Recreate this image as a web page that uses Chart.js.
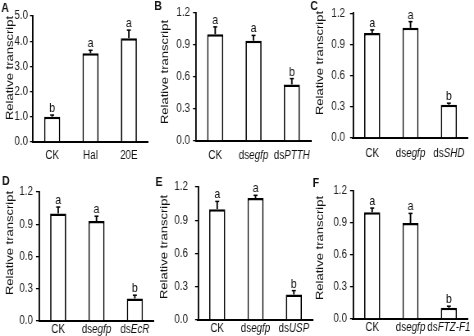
<!DOCTYPE html>
<html>
<head>
<meta charset="utf-8">
<script src="https://cdn.jsdelivr.net/npm/chart.js@4.4.0/dist/chart.umd.min.js"></script>
<style>
html, body { margin: 0; padding: 0; background: #fff; }
#wrap { position: relative; width: 474px; height: 336px; overflow: hidden; background: #fff; }
canvas { position: absolute; }
</style>
</head>
<body>
<div id="wrap"></div>
<script>
// panel data
const panelNames = ['A', 'B', 'C', 'D', 'E', 'F']
const yTitle = 'Relative transcript'

const catsA = ['CK', 'Hal', '20E']
const valsA = [1.0, 3.52, 4.12]
const errA = [0.07, 0.12, 0.32]
const sigA = ['b', 'a', 'a']

const catsB = ['CK', 'dsegfp', 'dsPTTH']
const valsB = [1.0, 0.94, 0.53]
const errB = [0.07, 0.05, 0.055]
const sigB = ['a', 'a', 'b']

const catsC = ['CK', 'dsegfp', 'dsSHD']
const valsC = [1.01, 1.06, 0.32]
const errC = [0.03, 0.06, 0.015]
const sigC = ['a', 'a', 'b']

const catsD = ['CK', 'dsegfp', 'dsEcR']
const valsD = [1.0, 0.93, 0.21]
const errD = [0.06, 0.045, 0.03]
const sigD = ['a', 'a', 'b']

const catsE = ['CK', 'dsegfp', 'dsUSP']
const valsE = [1.0, 1.1, 0.23]
const errE = [0.07, 0.025, 0.035]
const sigE = ['a', 'a', 'b']

const catsF = ['CK', 'dsegfp', 'dsFTZ-F1']
const valsF = [1.0, 0.9, 0.105]
const errF = [0.04, 0.09, 0.015]
const sigF = ['a', 'a', 'b']

const yMaxA = 5, yStepA = 1
const yMaxRest = 1.2, yStepRest = 0.3

// the source figure is squeezed sideways; draw wide, show narrow
const K = 0.82

// where each panel sits on the page (css px)
const boxes = [
  {x: 0,   y: 0,   w: 155, h: 168, axis: 33, top: 16, right: 7, xh: 26, lab: 14, tx: 10, ty: 68, px: 5, py: 8,  pad: 2},
  {x: 155, y: 0,   w: 160, h: 168, axis: 41, top: 13, right: 4, xh: 27, lab: 15, tx: 10, ty: 72, px: 3, py: 6,  pad: 3},
  {x: 310, y: 0,   w: 164, h: 168, axis: 43, top: 9,  right: 6, xh: 30, lab: 16, tx: 10, ty: 63, px: 4, py: 6,  pad: 5},
  {x: 0,   y: 168, w: 155, h: 168, axis: 39, top: 24, right: 1, xh: 15, lab: 9,  tx: 10, ty: 75, px: 6, py: 13, pad: 3},
  {x: 155, y: 168, w: 160, h: 168, axis: 43, top: 19, right: 2, xh: 16, lab: 9,  tx: 9,  ty: 79, px: 4, py: 14, pad: 7},
  {x: 310, y: 168, w: 164, h: 168, axis: 43, top: 23, right: 6, xh: 17, lab: 9,  tx: 10, ty: 80, px: 6, py: 15, pad: 3}
]

const panels = [
  [catsA, valsA, errA, sigA, yMaxA, yStepA],
  [catsB, valsB, errB, sigB, yMaxRest, yStepRest],
  [catsC, valsC, errC, sigC, yMaxRest, yStepRest],
  [catsD, valsD, errD, sigD, yMaxRest, yStepRest],
  [catsE, valsE, errE, sigE, yMaxRest, yStepRest],
  [catsF, valsF, errF, sigF, yMaxRest, yStepRest]
]

const sans = '"Liberation Sans", Arial, sans-serif'

function drawLabel(ctx, text, x, y) {
  // "ds" prefix upright, gene name italic
  let a = text, b = ''
  if (text.startsWith('ds') && text.length > 2) { a = 'ds'; b = text.slice(2) }
  ctx.font = '12px ' + sans
  const wa = ctx.measureText(a).width
  ctx.font = 'italic 12px ' + sans
  const wb = b ? ctx.measureText(b).width : 0
  let sx = x - (wa + wb) / 2
  ctx.textAlign = 'left'
  ctx.textBaseline = 'middle'
  ctx.font = '12px ' + sans
  ctx.fillText(a, sx, y)
  if (b) {
    ctx.font = 'italic 12px ' + sans
    ctx.fillText(b, sx + wa, y)
  }
}

function makeExtras(p, b) {
  return {
    id: 'extras',
    afterDatasetsDraw(chart) {
      const ctx = chart.ctx
      const ys = chart.scales.y
      const bars = chart.getDatasetMeta(0).data
      ctx.save()
      ctx.strokeStyle = '#000'
      ctx.fillStyle = '#111'
      // error bars + letters
      bars.forEach((bar, i) => {
        const top = ys.getPixelForValue(p.vals[i])
        const hi = ys.getPixelForValue(p.vals[i] + p.err[i])
        ctx.lineWidth = 1.5 / K
        ctx.beginPath()
        ctx.moveTo(bar.x, top)
        ctx.lineTo(bar.x, hi)
        ctx.stroke()
        ctx.lineWidth = 1.5
        ctx.beginPath()
        ctx.moveTo(bar.x - 2 / K, hi)
        ctx.lineTo(bar.x + 2 / K, hi)
        ctx.stroke()
        ctx.font = '13px ' + sans
        ctx.textAlign = 'center'
        ctx.textBaseline = 'alphabetic'
        ctx.fillText(p.sig[i], bar.x, hi - 3)
      })
      // category labels
      const xs = chart.scales.x
      p.cats.forEach((c, i) => {
        drawLabel(ctx, c, xs.getPixelForValue(i), chart.chartArea.bottom + b.lab)
      })
      // y title
      ctx.save()
      ctx.translate(b.tx / K, b.ty)
      ctx.rotate(-Math.PI / 2)
      ctx.font = '13px ' + sans
      ctx.textAlign = 'center'
      ctx.textBaseline = 'middle'
      ctx.fillText(yTitle, 0, 0)
      ctx.restore()
      // panel letter
      ctx.font = 'bold 13px ' + sans
      ctx.textAlign = 'center'
      ctx.textBaseline = 'middle'
      ctx.fillText(p.name, b.px / K, b.py)
      ctx.restore()
    }
  }
}

const wrap = document.getElementById('wrap')
panels.forEach((pd, k) => {
  const b = boxes[k]
  const cv = document.createElement('canvas')
  cv.width = Math.round(b.w / K)
  cv.height = b.h
  cv.style.left = b.x + 'px'
  cv.style.top = b.y + 'px'
  cv.style.width = b.w + 'px'
  cv.style.height = b.h + 'px'
  wrap.appendChild(cv)
  const [cats, vals, err, sig, yMax, yStep] = pd
  const info = {name: panelNames[k], cats, vals, err, sig}
  new Chart(cv.getContext('2d'), {
    type: 'bar',
    data: {
      labels: cats,
      datasets: [{
        data: vals,
        backgroundColor: '#fff',
        borderColor: '#000',
        borderWidth: {top: 2.5, left: 1.4 / K, right: 1.4 / K, bottom: 0},
        borderSkipped: 'start',
        barPercentage: 0.42,
        categoryPercentage: 1
      }]
    },
    options: {
      responsive: false,
      animation: false,
      events: [],
      devicePixelRatio: 1,
      layout: {padding: {top: b.top, right: b.right / K, left: 0, bottom: 0}},
      plugins: {legend: {display: false}, tooltip: {enabled: false}},
      scales: {
        x: {
          grid: {display: false},
          border: {display: true, color: '#000', width: 2},
          ticks: {display: false},
          afterFit: s => { s.height = b.xh }
        },
        y: {
          min: 0,
          max: yMax,
          ticks: {
            stepSize: yStep,
            callback: v => Number(v).toFixed(1),
            font: {family: sans, size: 12},
            color: '#222',
            padding: b.pad / K
          },
          grid: {drawOnChartArea: false, drawTicks: true, tickLength: 3 / K, color: '#000', lineWidth: 1.3},
          border: {display: true, color: '#000', width: 1.5 / K},
          afterFit: s => { s.width = b.axis / K }
        }
      }
    },
    plugins: [makeExtras(info, b)]
  })
})
</script>
</body>
</html>
